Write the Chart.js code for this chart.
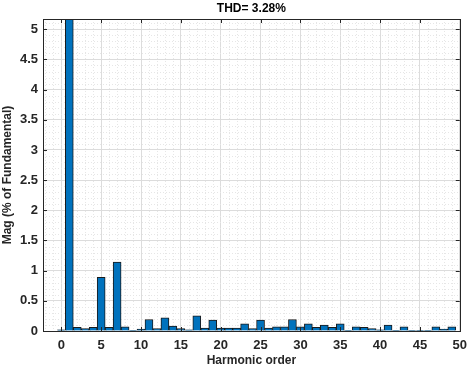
<!DOCTYPE html>
<html>
<head>
<meta charset="utf-8">
<script src="https://cdn.jsdelivr.net/npm/chart.js@4.4.0/dist/chart.umd.min.js"></script>
<style>
    html, body { margin: 0; padding: 0; background: #fff; }
    #wrap { width: 474px; height: 372px; }
</style>
</head>
<body>
<div id="wrap"><canvas id="thdChart"></canvas></div>
<script>
const harmonics = [0, 1, 2, 3, 4, 5, 6, 7, 8, 9, 10, 11, 12, 13, 14, 15, 16, 17, 18, 19, 20, 21, 22, 23, 24,
    25, 26, 27, 28, 29, 30, 31, 32, 33, 34, 35, 36, 37, 38, 39, 40, 41, 42, 43, 44, 45, 46, 47, 48, 49];
const magnitudes = [0.02, 100, 0.06, 0.04, 0.06, 0.89, 0.06, 1.14, 0.07, 0.01, 0.03, 0.19, 0.04, 0.22, 0.08, 0.04, 0.02, 0.25, 0.05, 0.18,
    0.05, 0.05, 0.05, 0.12, 0.04, 0.18, 0.05, 0.07, 0.07, 0.19, 0.07, 0.12, 0.06, 0.10, 0.06, 0.12, 0.01, 0.07, 0.06, 0.04,
    0.02, 0.10, 0.005, 0.07, 0.002, 0.002, 0.01, 0.07, 0.03, 0.07];
const xTicks = [0, 5, 10, 15, 20, 25, 30, 35, 40, 45, 50];
const yTicks = [0, 0.5, 1, 1.5, 2, 2.5, 3, 3.5, 4, 4.5, 5];
const titleText = 'THD= 3.28%';

const font = 'Liberation Sans, Arial, sans-serif';

// minor grid, box and inward ticks, like matlab axes
const axesBox = {
    id: 'axesBox',
    beforeDatasetsDraw(chart) {
        const ctx = chart.ctx;
        const a = chart.chartArea;
        const xs = chart.scales.x;
        const ys = chart.scales.y;
        ctx.save();
        ctx.strokeStyle = '#e6e6e6';
        ctx.lineWidth = 1;
        ctx.setLineDash([1, 2]);
        for (let v = -2; v <= 50; v++) {
            if (v % 5 === 0) continue;
            const px = Math.round(xs.getPixelForValue(v)) + 0.5;
            if (px <= a.left || px >= a.right) continue;
            ctx.beginPath(); ctx.moveTo(px, a.top); ctx.lineTo(px, a.bottom); ctx.stroke();
        }
        for (let i = 1; i < 52; i++) {
            if (i % 5 === 0) continue;
            const py = Math.round(ys.getPixelForValue(i / 10)) + 0.5;
            if (py <= a.top) continue;
            ctx.beginPath(); ctx.moveTo(a.left, py); ctx.lineTo(a.right, py); ctx.stroke();
        }
        ctx.restore();
    },
    afterDraw(chart) {
        const ctx = chart.ctx;
        const a = chart.chartArea;
        const xs = chart.scales.x;
        const ys = chart.scales.y;
        ctx.save();
        ctx.strokeStyle = '#262626';
        ctx.lineWidth = 1;
        ctx.setLineDash([]);
        ctx.strokeRect(Math.round(a.left) + 0.5, Math.round(a.top) + 0.5,
            Math.round(a.right - a.left), Math.round(a.bottom - a.top));
        xTicks.forEach(v => {
            const px = Math.round(xs.getPixelForValue(v)) + 0.5;
            ctx.beginPath(); ctx.moveTo(px, a.bottom); ctx.lineTo(px, a.bottom - 4); ctx.stroke();
            ctx.beginPath(); ctx.moveTo(px, a.top); ctx.lineTo(px, a.top + 4); ctx.stroke();
        });
        yTicks.forEach(v => {
            const py = Math.round(ys.getPixelForValue(v)) + 0.5;
            ctx.beginPath(); ctx.moveTo(a.left, py); ctx.lineTo(a.left + 4, py); ctx.stroke();
            ctx.beginPath(); ctx.moveTo(a.right, py); ctx.lineTo(a.right - 4, py); ctx.stroke();
        });
        ctx.fillStyle = '#000';
        ctx.font = 'bold 12px ' + font;
        ctx.textAlign = 'center';
        ctx.textBaseline = 'middle';
        ctx.fillText(titleText, (a.left + a.right) / 2, 9);
        ctx.restore();
    }
};

new Chart(document.getElementById('thdChart'), {
    type: 'bar',
    data: {
        labels: harmonics,
        datasets: [{
            label: 'Mag',
            data: harmonics.map((h, i) => ({ x: h, y: magnitudes[i] })),
            backgroundColor: '#0072BD',
            borderColor: '#1a1a1a',
            borderWidth: 1,
            barPercentage: 1,
            categoryPercentage: 1
        }]
    },
    options: {
        responsive: true,
        maintainAspectRatio: false,
        animation: false,
        layout: { padding: { top: 19, right: 2, left: 0, bottom: 0 } },
        plugins: {
            legend: { display: false },
            tooltip: { enabled: false }
        },
        scales: {
            x: {
                type: 'linear',
                offset: false,
                min: -2.3,
                max: 50,
                afterFit: s => { s.height = 41; },
                afterBuildTicks: s => { s.ticks = xTicks.map(v => ({ value: v })); },
                grid: { color: '#dcdcdc', drawTicks: false, offset: false },
                border: { display: false },
                ticks: {
                    color: '#262626',
                    font: { family: font, size: 13, weight: 'bold' },
                    padding: 7,
                    maxRotation: 0,
                    callback: v => String(v)
                },
                title: {
                    display: true,
                    text: 'Harmonic order',
                    color: '#262626',
                    font: { family: font, size: 12, weight: 'bold' },
                    padding: { top: 0, bottom: 4 }
                }
            },
            y: {
                min: 0,
                max: 5.17,
                afterFit: s => { s.width = 43; },
                afterBuildTicks: s => { s.ticks = yTicks.map(v => ({ value: v })); },
                grid: { color: '#dcdcdc', drawTicks: false },
                border: { display: false },
                ticks: {
                    color: '#262626',
                    font: { family: font, size: 13, weight: 'bold' },
                    padding: 5,
                    callback: v => String(v)
                },
                title: {
                    display: true,
                    text: 'Mag (% of Fundamental)',
                    color: '#262626',
                    font: { family: font, size: 12, weight: 'bold' },
                    padding: { top: 0, bottom: 0 }
                }
            }
        }
    },
    plugins: [axesBox]
});
</script>
</body>
</html>
